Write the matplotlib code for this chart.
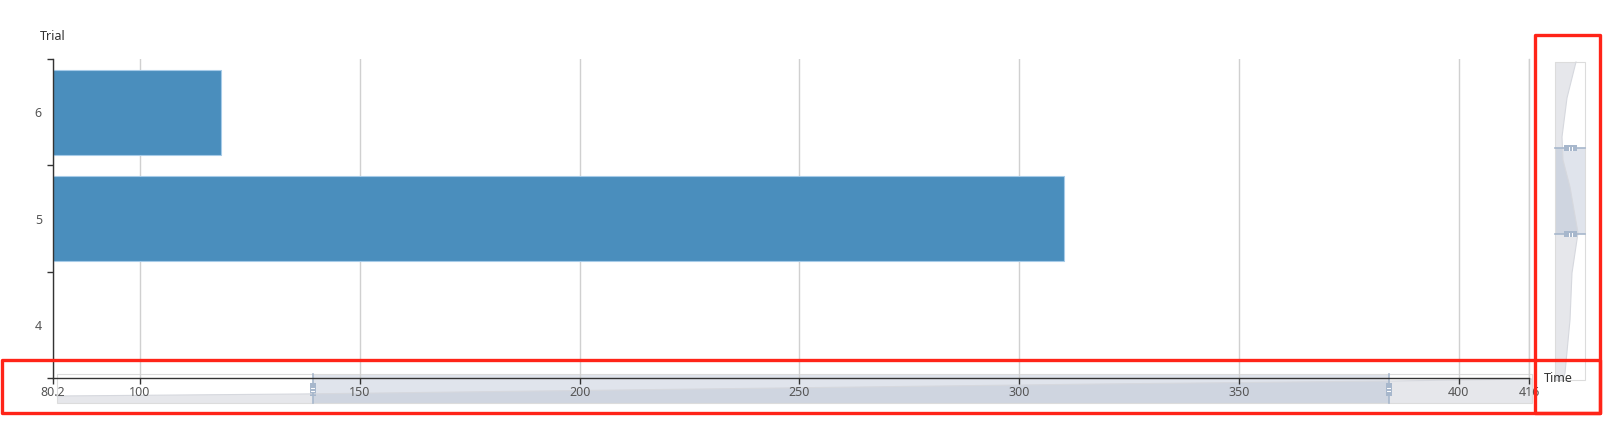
import numpy as np
import matplotlib.pyplot as plt
from matplotlib.patches import Rectangle, Polygon

# data
trials = [4, 5, 6]
times = [np.nan, 310.3, 118.4]
x_ticks = [80.2, 100, 150, 200, 250, 300, 350, 400, 416]
x_labels = ["80.2", "100", "150", "200", "250", "300", "350", "400", "416"]

W, H = 1608, 425
BAR = "#4a8ebd"
GRID = "#d0d0d0"
TXT = "#555555"
RED = "#ff2418"

plt.rcParams["font.family"] = ["Noto Sans", "DejaVu Sans"]

fig = plt.figure(figsize=(W / 100, H / 100), dpi=100)


def pixel_axes(z):
    a = fig.add_axes([0, 0, 1, 1], zorder=z)
    a.set_xlim(0, W)
    a.set_ylim(H, 0)
    a.axis("off")
    a.patch.set_alpha(0)
    return a


# sliders go under the chart, red frames over it
under = pixel_axes(1)

# plot area in pixels: x 53..1529, y 59..378
ax = fig.add_axes([53 / W, (H - 378) / H, (1529 - 53) / W, (378 - 59) / H], zorder=5)
ax.patch.set_alpha(0)
ax.barh(trials, times, height=0.8, left=0, color=BAR, edgecolor="#a6cbe8", linewidth=0.8, zorder=3)
ax.set_xlim(80.2, 416)
ax.set_ylim(3.5, 6.5)

ax.set_xticks(x_ticks)
ax.set_xticklabels(x_labels)
ax.set_yticks(trials)
ax.set_yticks([3.5, 4.5, 5.5, 6.5], minor=True)
ax.tick_params(axis="x", length=4, width=1, color="#333333", labelcolor=TXT, labelsize=9, pad=2)
ax.tick_params(axis="y", which="major", length=0, labelcolor=TXT, labelsize=9, pad=8)
ax.tick_params(axis="y", which="minor", length=4, width=1, color="#333333")
ax.grid(axis="x", color=GRID, linewidth=1, zorder=0)
ax.set_axisbelow(True)
for s in ["top", "right"]:
    ax.spines[s].set_visible(False)
for s in ["left", "bottom"]:
    ax.spines[s].set_color("#333333")
    ax.spines[s].set_linewidth(1)
    ax.spines[s].set_zorder(4)
ax.axvline(416, color=GRID, linewidth=1, zorder=1, clip_on=False)

fig.text(53 / W, 1 - 36 / H, "Trial", ha="center", va="center", fontsize=9, color="#333333")

SHADOW = "#e6e7eb"
SEL = "#dde1ea"
SEL_SHADOW = "#cfd5e0"
HANDLE = "#a7b7cc"

# bottom slider
bx0, bx1, by0, by1 = 57, 1532, 374, 403
h0, h1 = 313, 1389
shadow_x = [bx0, 300, 700, 1100, 1389, bx1]
shadow_y = [396, 394, 389, 384, 381, 379]
pts = [(bx0, by1)] + list(zip(shadow_x, shadow_y)) + [(bx1, by1)]
under.add_patch(Polygon(pts, closed=True, facecolor=SHADOW, edgecolor="none"))
under.plot(shadow_x, shadow_y, color="#d6d8de", lw=0.8)
under.add_patch(Rectangle((h0, by0), h1 - h0, by1 - by0, facecolor=SEL, edgecolor="none", alpha=0.9))
sel_x = [h0] + [x for x in shadow_x if h0 < x < h1] + [h1]
sel_y = list(np.interp(sel_x, shadow_x, shadow_y))
pts = [(h0, by1)] + list(zip(sel_x, sel_y)) + [(h1, by1)]
under.add_patch(Polygon(pts, closed=True, facecolor=SEL_SHADOW, edgecolor="none"))
under.add_patch(Rectangle((bx0, by0), bx1 - bx0, by1 - by0, facecolor="none", edgecolor="#dcdcdc", lw=0.8))
for hx in (h0, h1):
    under.plot([hx, hx], [by0, by1], color=HANDLE, lw=1.2)
    under.add_patch(Rectangle((hx - 3, 383), 6, 13, facecolor=HANDLE, edgecolor="none"))
    under.plot([hx - 1.5, hx + 1.5], [388, 388], color="white", lw=0.7)
    under.plot([hx - 1.5, hx + 1.5], [391, 391], color="white", lw=0.7)

# vertical slider
vx0, vx1, vy0, vy1 = 1555, 1585, 62, 380
v0, v1 = 148, 234
vs_y = [62, 98, 137, 160, 187, 233, 273, 320, 373, 380]
vs_x = [1576, 1567, 1562, 1563, 1570, 1578, 1572, 1570, 1565, 1563]
pts = [(vx0, vy0)] + list(zip(vs_x, vs_y)) + [(vx0, vy1)]
under.add_patch(Polygon(pts, closed=True, facecolor=SHADOW, edgecolor="none"))
under.plot(vs_x, vs_y, color="#d6d8de", lw=0.8)
under.add_patch(Rectangle((vx0, v0), vx1 - vx0, v1 - v0, facecolor=SEL, edgecolor="none", alpha=0.9))
sy = [v0] + [y for y in vs_y if v0 < y < v1] + [v1]
sx = list(np.interp(sy, vs_y, vs_x))
pts = [(vx0, v0)] + list(zip(sx, sy)) + [(vx0, v1)]
under.add_patch(Polygon(pts, closed=True, facecolor=SEL_SHADOW, edgecolor="none"))
under.add_patch(Rectangle((vx0, vy0), vx1 - vx0, vy1 - vy0, facecolor="none", edgecolor="#dcdcdc", lw=0.8))
for hy in (v0, v1):
    under.plot([vx0, vx1], [hy, hy], color=HANDLE, lw=1.2)
    under.add_patch(Rectangle((1564, hy - 3), 13, 6, facecolor=HANDLE, edgecolor="none"))
    under.plot([1569, 1569], [hy - 1.5, hy + 1.5], color="white", lw=0.7)
    under.plot([1572, 1572], [hy - 1.5, hy + 1.5], color="white", lw=0.7)

over = pixel_axes(10)
over.text(1544, 378, "Time", ha="left", va="center", fontsize=9, color="#333333")

# red annotation frames
over.add_patch(Rectangle((2, 360), 1598, 53, facecolor="none", edgecolor=RED, lw=2.4, joinstyle="round"))
over.add_patch(Rectangle((1535, 35), 65, 378, facecolor="none", edgecolor=RED, lw=2.4, joinstyle="round"))

fig.savefig("out.png", dpi=100)
